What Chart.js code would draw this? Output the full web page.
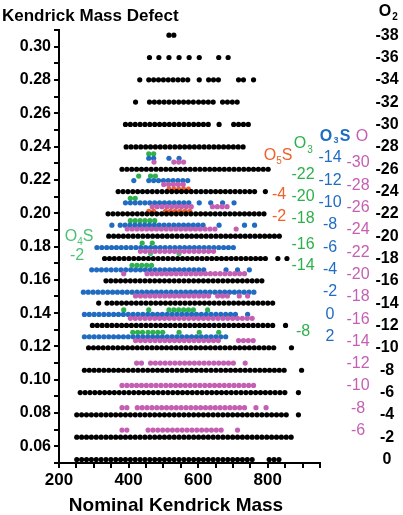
<!DOCTYPE html>
<html>
<head>
<meta charset="utf-8">
<script src="https://cdn.jsdelivr.net/npm/chart.js@4"></script>
<style>
  html, body { margin: 0; padding: 0; background: #fff; }
  #wrap { width: 403px; height: 515px; }
</style>
</head>
<body>
<div id="wrap"><canvas id="kmd"></canvas></div>
<script>
// CH2 homologous series: nominal mass step between dots
const massStep = 14

// Kendrick mass defect of each class row
const o2Kmd = [0.0521, 0.0655, 0.0789, 0.0923, 0.1057, 0.1192, 0.1326, 0.1460, 0.1594, 0.1728,
               0.1862, 0.1996, 0.2130, 0.2264, 0.2398, 0.2533, 0.2667, 0.2801, 0.2935, 0.3069]
const oKmd   = [0.0698, 0.0832, 0.0966, 0.1100, 0.1235, 0.1369, 0.1503, 0.1637, 0.1771, 0.1905, 0.2039, 0.2173, 0.2307]
const o3sKmd = [0.1258, 0.1392, 0.1526, 0.1660, 0.1794, 0.1928, 0.2062, 0.2196, 0.2330]
const o3Kmd  = [0.1285, 0.1419, 0.1553, 0.1687, 0.1821, 0.1955, 0.2089, 0.2223, 0.2357]
const o5sKmd = [0.2011, 0.2145]
const o4sKmd = [0.1758]

// mass ranges [first, last] per row, same order as the kmd arrays
const o2Rows = [
  [[251, 758], [804, 836]],
  [[251, 880]],
  [[251, 853], [888, 888]],
  [[261, 853], [888, 888]],
  [[273, 853], [897, 897]],
  [[285, 824], [868, 868]],
  [[296, 824], [851, 851]],
  [[314, 314], [338, 824]],
  [[335, 795]],
  [[331, 805], [829, 829], [855, 855]],
  [[343, 844]],
  [[341, 790]],
  [[370, 771], [793, 793]],
  [[381, 805]],
  [[393, 737]],
  [[391, 636], [660, 660], [702, 749]],
  [[420, 420], [460, 588], [601, 649], [670, 718]],
  [[432, 432], [458, 574], [603, 603], [630, 660], [716, 733], [759, 759]],
  [[460, 460], [487, 487], [516, 516], [545, 545], [574, 574], [603, 614], [659, 670], [686, 686]],
  [[516, 530]]
]
const oRows = [
  [[381, 405], [456, 675], [713, 713]],
  [[381, 400], [425, 742], [766, 766], [795, 795]],
  [[381, 771]],
  [[423, 439], [463, 713], [735, 735]],
  [[420, 670], [716, 766]],
  [[405, 766]],
  [[420, 641], [656, 694], [718, 718], [742, 742]],
  [[386, 386], [453, 742]],
  [[434, 646]],
  [[396, 660], [709, 709]],
  [[468, 593], [641, 685]],
  [[501, 569]],
  [[473, 473], [530, 564]]
]
const o3sRows = [
  [[273, 680]],
  [[273, 713], [742, 742]],
  [[270, 766]],
  [[294, 622], [680, 680], [713, 713], [747, 747]],
  [[309, 709]],
  [[352, 352], [376, 627], [660, 660], [733, 733], [762, 762]],
  [[391, 584], [603, 603], [636, 636], [670, 670], [703, 703]],
  [[415, 424], [458, 574]],
  [[458, 473], [516, 516], [545, 545]]
]
const o3Rows = [
  [[412, 441], [456, 508], [545, 545], [603, 603], [659, 659]],
  [[386, 395], [458, 458], [516, 593], [627, 627]],
  [],
  [[410, 473]],
  [[439, 439], [468, 477]],
  [[405, 482]],
  [[405, 424]],
  [[429, 429], [463, 477]],
  [[458, 473]]
]
const o5sRows = [
  [[458, 477], [506, 584]],
  [[516, 574]]
]
const o4sRows = [
  [[463, 473], [545, 545]]
]

const yTicks = [0.05, 0.06, 0.07, 0.08, 0.09, 0.10, 0.11, 0.12, 0.13, 0.14, 0.15, 0.16, 0.17, 0.18,
                0.19, 0.20, 0.21, 0.22, 0.23, 0.24, 0.25, 0.26, 0.27, 0.28, 0.29, 0.30, 0.31]
const xTicks = [200, 250, 300, 350, 400, 450, 500, 550, 600, 650, 700, 750, 800, 850, 900, 950]
const xLabeled = [200, 400, 600, 800]

const o2Labels  = ['0', '-2', '-4', '-6', '-8', '-10', '-12', '-14', '-16', '-18', '-20', '-22', '-24',
                   '-26', '-28', '-30', '-32', '-34', '-36', '-38']
const oLabels   = ['-30', '-28', '-26', '-24', '-22', '-20', '-18', '-16', '-14', '-12', '-10', '-8', '-6']
const o3sLabels = ['-14', '-12', '-10', '-8', '-6', '-4', '-2', '0', '2']
const o3Labels  = ['-22', '-20', '-18', '-16', '-14', '-8']
const o5sLabels = ['-4', '-2']

function points(rows, kmd) {
  let pts = []
  rows.forEach((segs, i) => {
    segs.forEach(s => {
      for (let m = s[0]; m <= s[1] + 0.5; m += massStep) pts.push({x: m, y: kmd[i]})
    })
  })
  return pts
}

const BLACK = '#000000', PINK = '#c45fb4', BLUE = '#1f6cc2', GREEN = '#2eb04a', ORANGE = '#f0602a', LGREEN = '#4cc074'

function dataset(data, color) {
  return { data: data, backgroundColor: color, borderColor: color, pointRadius: 2.6, pointBorderWidth: 0 }
}

const labelPlugin = {
  id: 'labels',
  afterDraw(chart) {
    const ctx = chart.ctx
    const ys = chart.scales.y
    ctx.save()
    ctx.textAlign = 'center'
    ctx.textBaseline = 'middle'
    ctx.font = 'bold 16px Arial, "Liberation Sans"'
    ctx.fillStyle = BLACK
    o2Labels.forEach((t, k) => ctx.fillText(t, 387, ys.getPixelForValue(o2Kmd[k])))
    ctx.fillText('O', 385, 12)
    ctx.font = 'bold 10px Arial, "Liberation Sans"'
    ctx.fillText('2', 395, 17)

    ctx.font = '16px Arial, "Liberation Sans"'
    ctx.fillStyle = PINK
    oLabels.forEach((t, i) => ctx.fillText(t, 358, 163 + i * 22.3))
    ctx.fillText('O', 362, 137)

    ctx.fillStyle = BLUE
    o3sLabels.forEach((t, i) => ctx.fillText(t, 330, 158 + i * 22.3))
    ctx.font = 'bold 16px Arial, "Liberation Sans"'
    ctx.fillText('O', 326, 137); ctx.fillText('S', 345, 137)
    ctx.font = 'bold 9px Arial, "Liberation Sans"'
    ctx.fillText('3', 336, 141)

    ctx.font = '16px Arial, "Liberation Sans"'
    ctx.fillStyle = GREEN
    const o3y = [175, 197, 219, 245, 266, 332]
    o3Labels.forEach((t, i) => ctx.fillText(t, 303, o3y[i]))
    ctx.fillText('O', 300, 144)
    ctx.font = '10px Arial, "Liberation Sans"'
    ctx.fillText('3', 310, 150)

    ctx.font = '16px Arial, "Liberation Sans"'
    ctx.fillStyle = ORANGE
    o5sLabels.forEach((t, i) => ctx.fillText(t, 279, 195 + i * 22))
    ctx.fillText('O', 270, 156); ctx.fillText('S', 287, 156)
    ctx.font = '10px Arial, "Liberation Sans"'
    ctx.fillText('5', 279, 161)

    ctx.font = '16px Arial, "Liberation Sans"'
    ctx.fillStyle = LGREEN
    ctx.fillText('O', 71, 237); ctx.fillText('S', 88, 237)
    ctx.fillText('-2', 77, 256)
    ctx.font = '10px Arial, "Liberation Sans"'
    ctx.fillText('4', 80, 242)

    ctx.fillStyle = BLACK
    ctx.textAlign = 'left'
    ctx.font = 'bold 17px Arial, "Liberation Sans"'
    ctx.fillText('Kendrick Mass Defect', 2, 16)
    ctx.textAlign = 'center'
    ctx.font = 'bold 19px Arial, "Liberation Sans"'
    ctx.fillText('Nominal Kendrick Mass', 176, 506)
    ctx.restore()
  }
}

new Chart('kmd', {
  type: 'scatter',
  data: {
    datasets: [
      dataset(points(o2Rows, o2Kmd), BLACK),
      dataset(points(oRows, oKmd), PINK),
      dataset(points(o3sRows, o3sKmd), BLUE),
      dataset(points(o3Rows, o3Kmd), GREEN),
      dataset(points(o4sRows, o4sKmd), LGREEN),
      dataset(points(o5sRows, o5sKmd), ORANGE)
    ]
  },
  options: {
    responsive: true,
    maintainAspectRatio: false,
    animation: false,
    layout: { padding: { top: 30, right: 83, left: 0, bottom: 0 } },
    plugins: { legend: { display: false }, tooltip: { enabled: false } },
    scales: {
      x: {
        type: 'linear', min: 200, max: 950,
        afterFit: s => { s.height = 52 },
        afterBuildTicks: s => { s.ticks = xTicks.map(v => ({value: v})) },
        border: { color: BLACK, width: 2 },
        grid: { drawOnChartArea: false, color: BLACK, lineWidth: 2, tickLength: 5 },
        ticks: {
          color: BLACK, padding: 2, maxRotation: 0, autoSkip: false,
          font: { family: 'Arial, "Liberation Sans"', size: 17, weight: 'bold' },
          callback: v => xLabeled.includes(v) ? String(v) : ''
        }
      },
      y: {
        type: 'linear', min: 0.05, max: 0.31,
        afterFit: s => { s.width = 59 },
        afterBuildTicks: s => { s.ticks = yTicks.map(v => ({value: v})) },
        border: { color: BLACK, width: 2 },
        grid: { drawOnChartArea: false, color: BLACK, lineWidth: 2, tickLength: 5 },
        ticks: {
          color: BLACK, padding: 3, autoSkip: false,
          font: { family: 'Arial, "Liberation Sans"', size: 16, weight: 'bold' },
          callback: v => {
            const c = Math.round(v * 100)
            return (c % 2 == 0 && c >= 6 && c <= 30) ? (c / 100).toFixed(2) : ''
          }
        }
      }
    }
  },
  plugins: [labelPlugin]
})
</script>
</body>
</html>
